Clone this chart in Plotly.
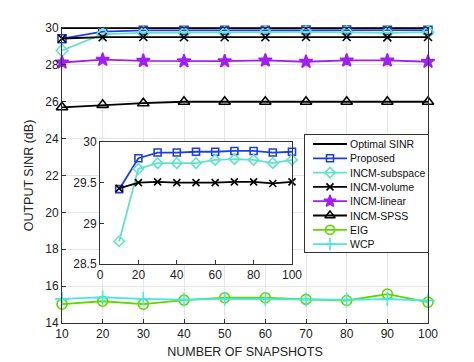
import plotly.graph_objects as go

snapshots = [10, 20, 30, 40, 50, 60, 70, 80, 90, 100]
optimal = [30.0, 30.0, 30.0, 30.0, 30.0, 30.0, 30.0, 30.0, 30.0, 30.0]
proposed = [29.42, 29.80, 29.87, 29.87, 29.88, 29.88, 29.89, 29.89, 29.87, 29.88]
subspace = [28.78, 29.67, 29.74, 29.74, 29.74, 29.78, 29.79, 29.78, 29.74, 29.78]
volume = [29.43, 29.50, 29.51, 29.50, 29.50, 29.50, 29.51, 29.51, 29.49, 29.51]
linear = [28.13, 28.28, 28.22, 28.20, 28.20, 28.24, 28.17, 28.24, 28.24, 28.17]
spss = [25.70, 25.83, 25.92, 26.0, 26.0, 26.0, 26.0, 26.0, 26.0, 26.0]
eig = [15.02, 15.18, 15.02, 15.24, 15.37, 15.37, 15.28, 15.22, 15.57, 15.13]
wcp = [15.31, 15.39, 15.31, 15.27, 15.31, 15.30, 15.28, 15.26, 15.30, 15.22]

main_xticks = [10, 20, 30, 40, 50, 60, 70, 80, 90, 100]
main_yticks = [14, 16, 18, 20, 22, 24, 26, 28, 30]
inset_xticks = [0, 20, 40, 60, 80, 100]
inset_yticks = [28.5, 29, 29.5, 30]
inset_ylabels = ["28.5", "29", "29.5", "30"]

names = ["Optimal SINR", "Proposed", "INCM-subspace", "INCM-volume",
         "INCM-linear", "INCM-SPSS", "EIG", "WCP"]
series = [optimal, proposed, subspace, volume, linear, spss, eig, wcp]
colors = ["#000000", "#1f3fe0", "#62e2c8", "#000000", "#a020f0", "#000000", "#5fd800", "#48e8e0"]
symbols = [None, "square-open", "diamond-open", "x-thin-open", "star", "triangle-up-open",
           "circle-open", "cross-thin-open"]
sizes = [0, 8, 9, 8, 10, 10, 10, 10]

FONT = "Liberation Sans, Arial, sans-serif"
fig = go.Figure()

# main axes
for name, y, c, s, sz in zip(names, series, colors, symbols, sizes):
    if s is None:
        fig.add_trace(go.Scatter(x=snapshots, y=y, mode="lines", line=dict(color=c, width=2.2),
                                 showlegend=False, xaxis="x", yaxis="y", cliponaxis=False))
    else:
        fig.add_trace(go.Scatter(x=snapshots, y=y, mode="lines+markers",
                                 line=dict(color=c, width=1.8),
                                 marker=dict(symbol=s, size=sz, color=c, line=dict(color=c, width=1.6)),
                                 showlegend=False, xaxis="x", yaxis="y", cliponaxis=False))

# inset
for idx in [1, 2, 3]:
    fig.add_trace(go.Scatter(x=snapshots, y=series[idx], mode="lines+markers",
                             line=dict(color=colors[idx], width=1.8),
                             marker=dict(symbol=symbols[idx], size=sizes[idx] - 1, color=colors[idx],
                                         line=dict(color=colors[idx], width=1.6)),
                             showlegend=False, xaxis="x2", yaxis="y2", cliponaxis=False))

# manual legend
for i, (name, c, s, sz) in enumerate(zip(names, colors, symbols, sizes)):
    fig.add_trace(go.Scatter(x=[8, 42], y=[i, i], mode="lines", line=dict(color=c, width=1.8),
                             showlegend=False, xaxis="x3", yaxis="y3", hoverinfo="skip"))
    if s is not None:
        fig.add_trace(go.Scatter(x=[25], y=[i], mode="markers",
                                 marker=dict(symbol=s, size=sz - 1, color=c, line=dict(color=c, width=1.6)),
                                 showlegend=False, xaxis="x3", yaxis="y3", hoverinfo="skip"))
    fig.add_annotation(x=43, y=i, xref="x3", yref="y3", text=name, showarrow=False,
                       xanchor="left", yanchor="middle", font=dict(size=10.5, color="#111", family=FONT))

axis_common = dict(showline=True, mirror=True, linecolor="#333", linewidth=1, ticks="inside",
                   ticklen=4, tickcolor="#333", zeroline=False,
                   tickfont=dict(size=12, color="#222", family=FONT))

fig.update_layout(
    width=474, height=362,
    margin=dict(l=54, r=54, t=20, b=47),
    paper_bgcolor="white", plot_bgcolor="white",
    font=dict(family=FONT, color="#222"),
    xaxis=dict(domain=[0, 1], range=[10, 100], tickvals=main_xticks, showgrid=True,
               gridcolor="#e6e6e6", anchor="y",
               title=dict(text="NUMBER OF SNAPSHOTS", font=dict(size=12.5, family=FONT), standoff=6),
               **axis_common),
    yaxis=dict(domain=[0, 1], range=[14, 30], tickvals=main_yticks, showgrid=True,
               gridcolor="#e6e6e6", anchor="x",
               title=dict(text="OUTPUT SINR (dB)", font=dict(size=12.5, family=FONT), standoff=8),
               **axis_common),
    xaxis2=dict(domain=[0.1038, 0.6284], range=[0, 100], tickvals=inset_xticks, showgrid=False,
                anchor="y2", **axis_common),
    yaxis2=dict(domain=[0.2, 0.6136], range=[28.5, 30], tickvals=inset_yticks,
                ticktext=inset_ylabels, showgrid=False, anchor="x2", **axis_common),
    xaxis3=dict(domain=[0.6639, 1.0], range=[0, 123], showline=True, mirror=True, linecolor="#333",
                showticklabels=False, ticks="", showgrid=False, zeroline=False, anchor="y3"),
    yaxis3=dict(domain=[0.2407, 0.6373], range=[7.55, -0.63], showline=True, mirror=True,
                linecolor="#333", showticklabels=False, ticks="", showgrid=False, zeroline=False,
                anchor="x3"),
)

fig.write_html("out.html")
